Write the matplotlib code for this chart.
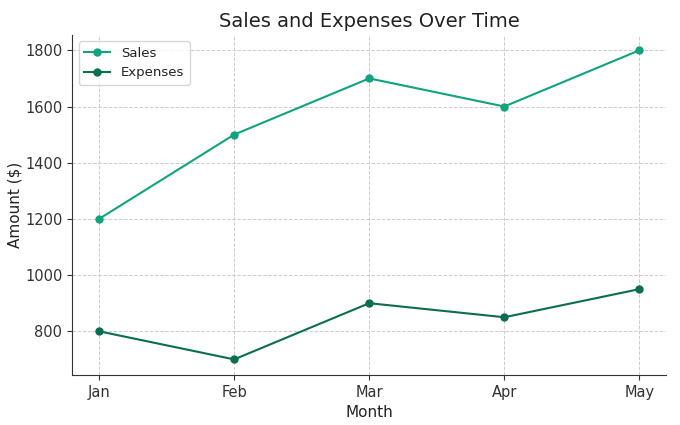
import matplotlib.pyplot as plt

# data
months = ['Jan', 'Feb', 'Mar', 'Apr', 'May']
sales = [1200, 1500, 1700, 1600, 1800]
expenses = [800, 700, 900, 850, 950]

plt.rcParams['text.color'] = '#222222'
plt.rcParams['axes.labelcolor'] = '#222222'
plt.rcParams['xtick.color'] = '#333333'
plt.rcParams['ytick.color'] = '#333333'

fig, ax = plt.subplots(figsize=(6.8, 4.25), dpi=100)
ax.plot(months, sales, marker='o', markersize=5, color='#10a37f', label='Sales')
ax.plot(months, expenses, marker='o', markersize=5, color='#0b6e4f', label='Expenses')

ax.set_title('Sales and Expenses Over Time', fontsize=14)
ax.set_xlabel('Month', fontsize=11)
ax.set_ylabel('Amount ($)', fontsize=11, labelpad=2)
ax.tick_params(labelsize=10.5)
ax.grid(True, linestyle='--', color='#cccccc', linewidth=0.7)
ax.set_axisbelow(True)
for side in ['top', 'right']:
    ax.spines[side].set_visible(False)
for side in ['left', 'bottom']:
    ax.spines[side].set_color('#333333')
ax.set_yticks([800, 1000, 1200, 1400, 1600, 1800])
ax.legend(loc='upper left', fontsize=9.5)

fig.subplots_adjust(left=0.106, right=0.98, top=0.918, bottom=0.118)
fig.savefig('out.png')
